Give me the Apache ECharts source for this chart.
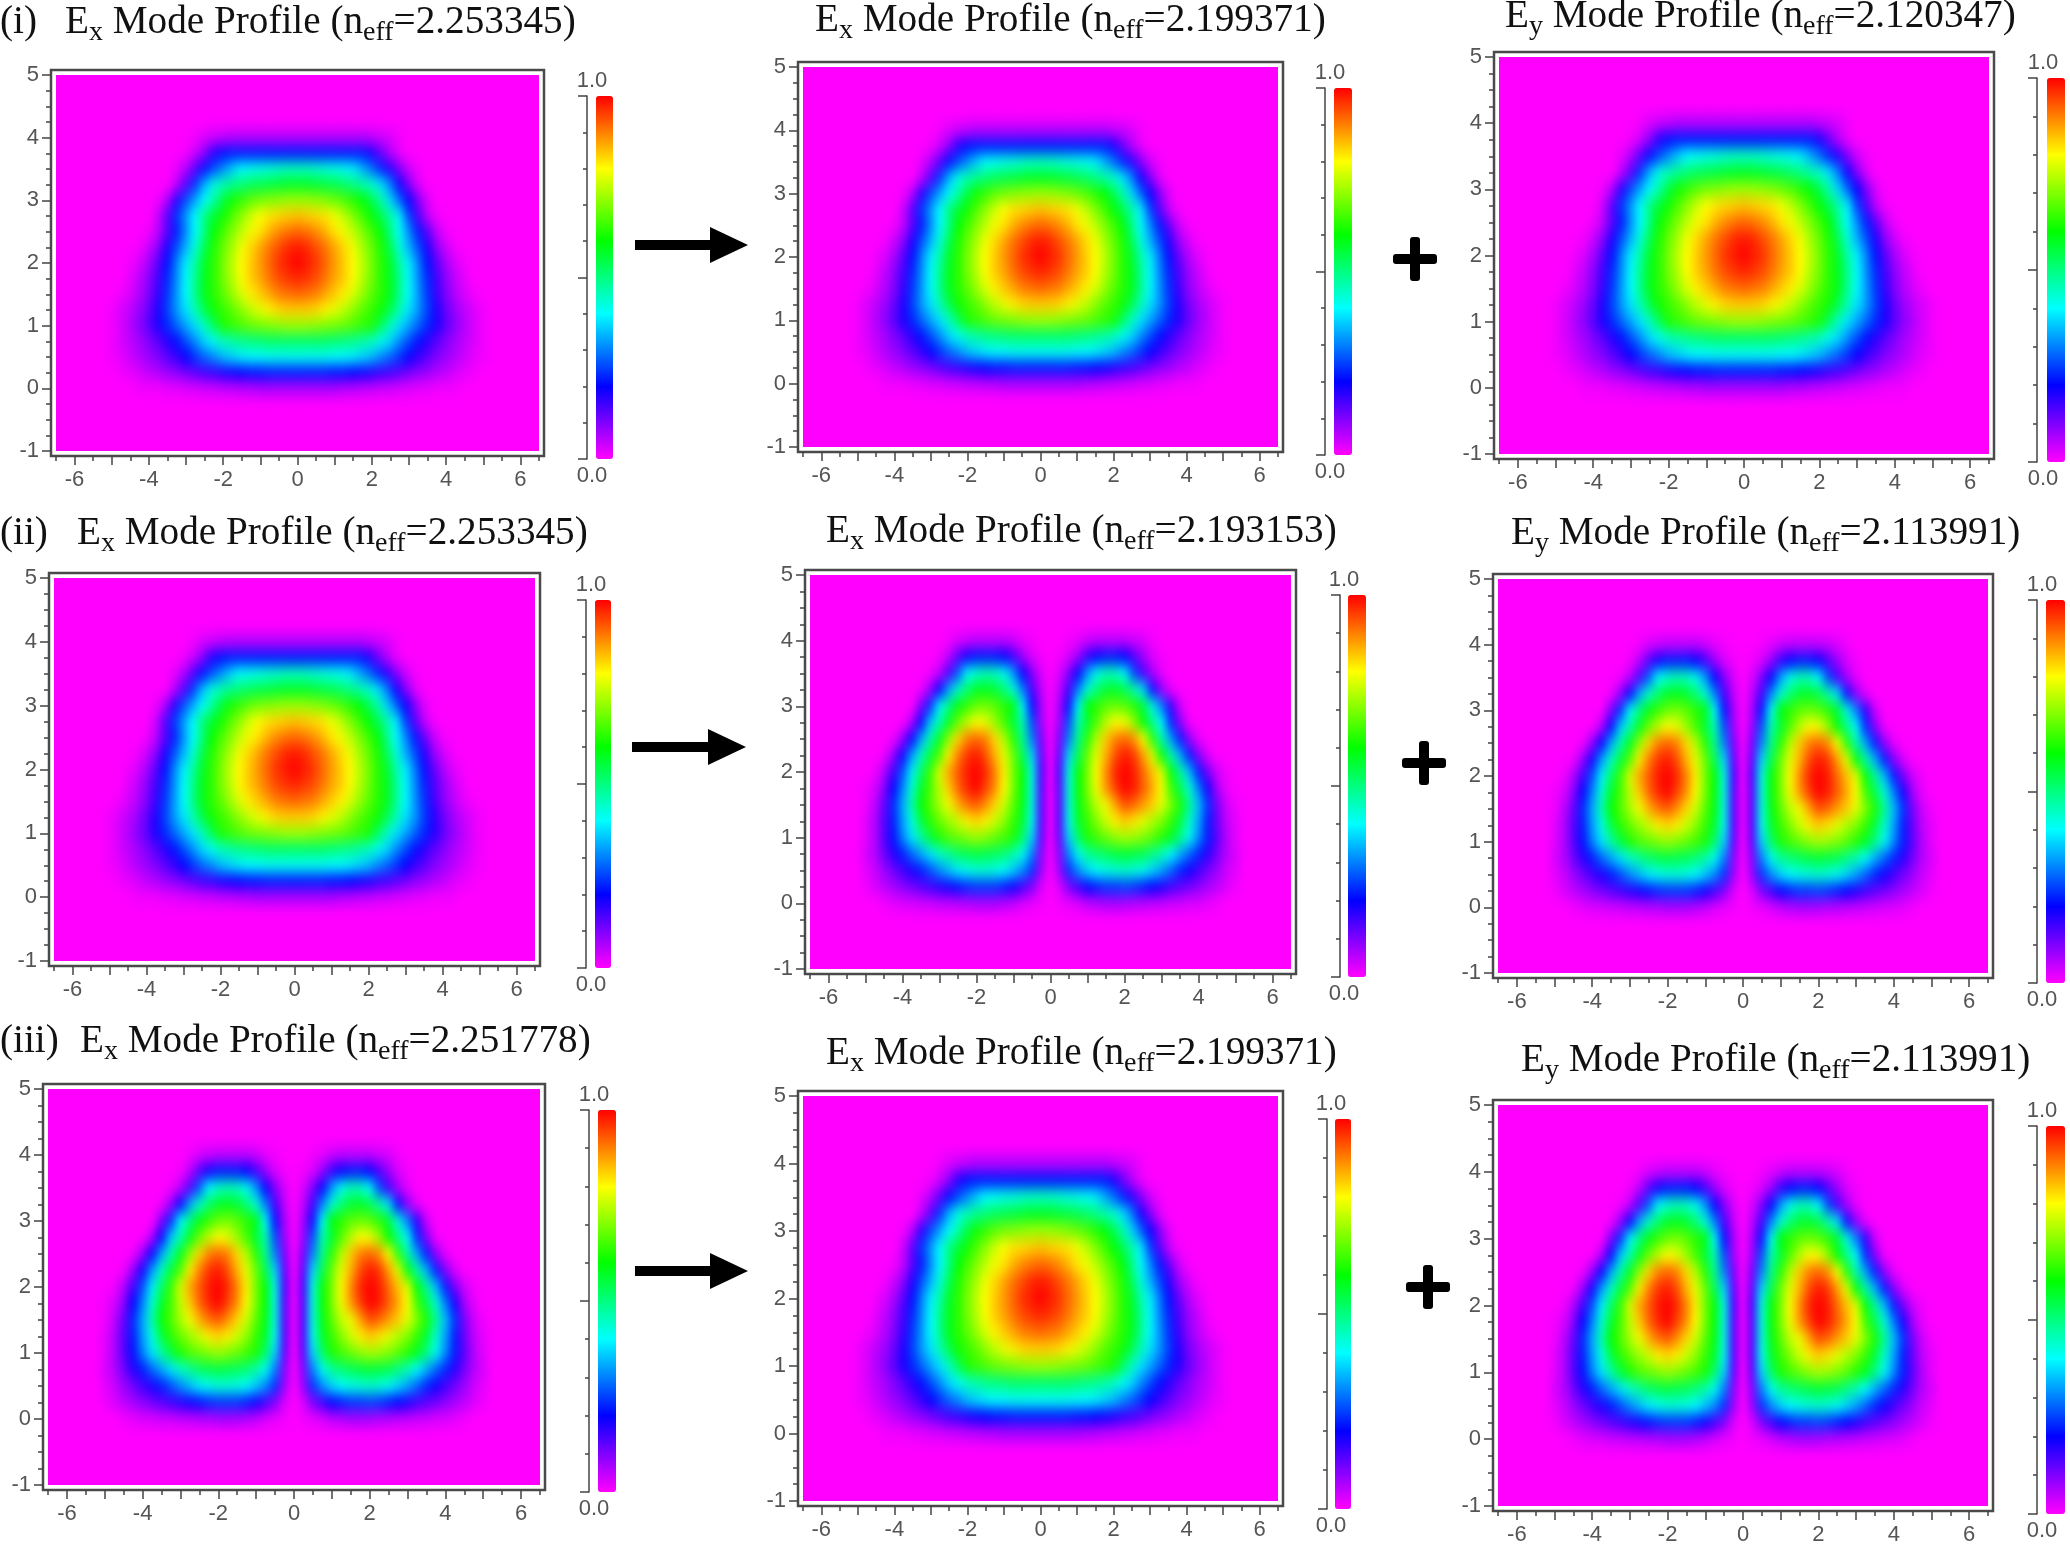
<!DOCTYPE html>
<html>
<head>
<meta charset="utf-8">
<title>Mode profiles</title>
<script src="https://cdn.jsdelivr.net/npm/echarts@6/dist/echarts.min.js"></script>
<style>
  html, body { margin: 0; padding: 0; background: #fff; }
  #page { position: relative; width: 2070px; height: 1557px; overflow: hidden; }
  #overlay { position: absolute; left: 0; top: 0; width: 2070px; height: 1557px; z-index: 2; }
  .well { position: absolute; background: #ff00ff; overflow: hidden; z-index: 1; }
  .heat { width: 100%; height: 100%; filter: url(#soften); }
</style>
</head>
<body>
<svg width="0" height="0" style="position:absolute">
  <filter id="soften" x="-5%" y="-5%" width="110%" height="110%" color-interpolation-filters="sRGB">
    <feGaussianBlur stdDeviation="4 7"></feGaussianBlur>
  </filter>
</svg>
<div id="page"><div id="overlay"></div></div>
<script>
// cell centres of the field tables, in microns
var xCats = [-5, -4.75, -4.5, -4.25, -4, -3.75, -3.5, -3.25, -3, -2.75, -2.5, -2.25, -2, -1.75, -1.5, -1.25, -1, -0.75, -0.5, -0.25, 0,
  0.25, 0.5, 0.75, 1, 1.25, 1.5, 1.75, 2, 2.25, 2.5, 2.75, 3, 3.25, 3.5, 3.75, 4, 4.25, 4.5, 4.75, 5];
var yCats = [4.25, 4, 3.75, 3.5, 3.25, 3, 2.75, 2.5, 2.25, 2, 1.75, 1.5, 1.25, 1, 0.75, 0.5, 0.25, 0, -0.25];

// field intensity in percent of peak, rows follow yCats
var singleLobe = [
  [0,0,0,0,0,0,0,0,0,0,0,0,0,0,0,0,0,0,0,0, 0, 0,0,0,0,0,0,0,0,0,0,0,0,0,0,0,0,0,0,0,0],
  [0,0,0,0,0,0,0,0,0,1,3,4,5,6,6,6,6,6,6,6, 6, 6,6,6,6,6,6,6,5,4,3,1,0,0,0,0,0,0,0,0,0],
  [0,0,0,0,0,0,0,0,1,4,9,17,21,22,22,22,22,22,22,22, 22, 22,22,22,22,22,22,22,18,12,6,2,0,0,0,0,0,0,0,0,0],
  [0,0,0,0,0,0,0,2,6,13,21,26,31,36,40,41,42,43,44,45, 45, 45,44,43,42,41,39,34,29,23,17,10,4,1,0,0,0,0,0,0,0],
  [0,0,0,0,0,0,0,5,13,24,34,42,46,49,51,53,54,55,56,57, 57, 57,56,55,54,52,50,47,44,38,30,19,10,3,0,0,0,0,0,0,0],
  [0,0,0,0,0,1,6,17,26,33,40,47,55,61,64,67,69,70,71,72, 72, 72,71,70,68,66,63,60,54,47,37,28,20,10,3,0,0,0,0,0,0],
  [0,0,0,0,0,4,13,24,32,40,50,56,61,66,71,76,80,82,83,84, 85, 84,83,82,79,75,70,65,60,54,47,39,25,14,5,1,0,0,0,0,0],
  [0,0,0,0,1,5,13,22,31,40,50,60,65,70,75,79,82,86,89,91, 92, 91,89,86,82,79,75,70,65,60,50,40,31,22,13,5,1,0,0,0,0],
  [0,0,0,1,4,9,18,26,34,43,54,62,68,73,79,83,87,91,94,97, 98, 97,94,91,87,83,79,73,68,62,54,43,34,26,18,9,4,1,0,0,0],
  [0,0,1,3,7,13,21,30,39,47,57,63,69,75,80,84,88,92,96,98, 100, 98,96,92,88,84,80,75,69,63,57,47,39,30,21,13,7,3,1,0,0],
  [0,0,2,5,9,15,23,31,40,49,58,63,69,74,80,84,87,91,94,96, 97, 96,94,91,87,84,80,74,69,63,58,49,40,31,23,15,9,5,2,0,0],
  [0,1,3,6,10,16,24,32,40,49,58,63,67,72,77,81,84,87,90,91, 92, 91,90,87,84,81,77,72,67,63,58,49,40,32,24,16,10,6,3,1,0],
  [1,3,5,8,12,18,25,32,38,46,54,61,64,67,71,75,78,81,83,84, 84, 84,83,81,78,75,71,67,64,61,54,46,38,32,25,18,12,8,5,3,1],
  [1,3,6,9,13,18,23,28,33,38,45,53,62,64,66,68,69,70,71,72, 72, 72,71,70,69,68,66,64,62,53,45,38,33,28,23,18,13,9,6,3,1],
  [1,3,5,7,10,13,17,21,26,31,37,41,45,47,49,50,51,52,52,52, 52, 52,52,52,51,50,49,47,45,41,37,31,26,21,17,13,10,7,5,3,1],
  [1,2,4,6,8,10,13,16,20,24,28,31,35,37,39,40,40,41,41,41, 41, 41,41,41,40,40,39,37,35,31,28,24,20,16,13,10,8,6,4,2,1],
  [0,1,2,3,5,6,8,9,11,13,15,16,18,19,20,21,21,22,22,22, 22, 22,22,22,21,21,20,19,18,16,15,13,11,9,8,6,5,3,2,1,0],
  [0,0,0,1,1,1,2,2,3,3,4,4,5,5,6,6,7,7,7,7, 7, 7,7,7,7,6,6,5,5,4,4,3,3,2,2,1,1,1,0,0,0],
  [0,0,0,0,0,0,0,0,0,0,0,0,0,0,0,0,0,0,0,0, 0, 0,0,0,0,0,0,0,0,0,0,0,0,0,0,0,0,0,0,0,0]
];
var doubleLobe = [
  [0,0,0,0,0,0,0,0,0,0,0,0,0,0,0,0,0,0,0,0, 0, 0,0,0,0,0,0,0,0,0,0,0,0,0,0,0,0,0,0,0,0],
  [0,0,0,0,0,0,0,0,0,1,3,4,5,5,5,5,4,2,1,0, 0, 0,1,2,4,5,5,5,5,4,3,1,0,0,0,0,0,0,0,0,0],
  [0,0,0,0,0,0,0,0,1,5,13,19,22,22,22,20,15,8,3,1, 0, 1,3,8,16,20,22,22,20,14,8,3,1,0,0,0,0,0,0,0,0],
  [0,0,0,0,0,0,0,1,5,14,27,40,44,46,45,41,32,20,10,3, 0, 3,10,20,32,41,46,45,40,26,15,7,2,0,0,0,0,0,0,0,0],
  [0,0,0,0,0,0,1,8,20,33,44,52,57,58,56,51,43,30,15,5, 0, 5,15,30,43,51,56,57,54,47,38,21,9,2,0,0,0,0,0,0,0],
  [0,0,0,0,0,0,10,23,40,50,59,64,68,69,67,63,59,40,21,7, 0, 7,21,40,60,63,67,68,67,63,56,42,30,17,4,0,0,0,0,0,0],
  [0,0,0,0,0,6,20,36,46,58,68,75,80,78,72,65,56,46,26,8, 0, 8,26,46,56,66,74,80,79,72,60,50,40,23,10,1,0,0,0,0,0],
  [0,0,0,1,8,20,33,46,58,71,83,90,92,90,83,74,63,49,30,11, 0, 11,30,49,63,74,84,90,92,89,80,63,47,33,22,9,2,0,0,0,0],
  [0,0,1,8,19,32,44,56,66,81,90,96,98,94,86,78,68,54,37,13, 0, 13,37,54,68,78,86,94,98,96,88,78,60,47,34,22,10,3,0,0,0],
  [0,1,6,15,26,39,52,64,77,87,93,98,100,97,90,81,69,60,42,15, 0, 15,42,60,69,80,89,97,100,98,92,85,78,60,48,35,22,11,4,1,0],
  [1,3,9,20,30,43,57,65,75,84,92,97,100,95,89,80,69,60,42,14, 0, 14,42,60,69,79,88,95,100,98,93,87,80,65,55,43,30,19,7,2,0],
  [1,5,12,23,33,46,60,66,73,79,86,91,93,89,83,76,67,59,42,14, 0, 14,42,59,67,75,79,87,94,92,88,84,78,70,62,49,35,24,11,4,1],
  [2,6,13,22,32,42,55,63,68,72,76,81,83,81,76,71,64,57,41,14, 0, 14,41,57,64,70,76,81,84,82,78,74,70,64,56,44,33,22,12,5,2],
  [2,6,13,21,30,38,47,55,62,66,68,70,72,70,68,65,62,52,37,13, 0, 13,37,52,62,65,68,71,73,72,70,67,63,58,50,41,31,22,13,6,2],
  [3,6,11,17,22,28,33,38,44,48,52,54,55,54,53,51,47,41,30,10, 0, 10,30,41,48,51,53,55,56,55,54,50,46,40,34,28,23,17,11,6,3],
  [2,4,8,11,15,18,22,26,31,35,39,41,43,43,42,40,36,31,24,8, 0, 8,24,31,37,40,42,43,44,43,41,37,33,28,23,19,15,11,8,4,2],
  [1,3,5,7,9,11,13,15,17,19,21,23,24,24,24,22,19,15,10,3, 0, 3,10,15,20,22,24,24,25,24,22,20,18,15,13,11,9,7,5,3,1],
  [0,0,1,2,3,3,4,4,5,5,6,6,7,7,7,6,5,3,2,1, 0, 1,2,3,5,6,7,7,7,6,6,5,5,4,4,3,3,2,1,0,0],
  [0,0,0,0,0,0,0,0,0,0,0,0,0,0,0,0,0,0,0,0, 0, 0,0,0,0,0,0,0,0,0,0,0,0,0,0,0,0,0,0,0,0]
];

// panel contents, row by row
var modeNames = ['x', 'x', 'y', 'x', 'x', 'y', 'x', 'x', 'y'];
var neffValues = ['2.253345', '2.199371', '2.120347', '2.253345', '2.193153', '2.113991', '2.251778', '2.199371', '2.113991'];
var fields = [singleLobe, singleLobe, singleLobe, singleLobe, doubleLobe, doubleLobe, doubleLobe, singleLobe, doubleLobe];
var rowLabels = ['(i)', '(ii)', '(iii)'];
var xMajorTicks = [-6, -5, -4, -3, -2, -1, 0, 1, 2, 3, 4, 5, 6];
var xMinorTicks = [-6.5, -5.5, -4.5, -3.5, -2.5, -1.5, -0.5, 0.5, 1.5, 2.5, 3.5, 4.5, 5.5, 6.5];
var xLabels = [-6, -4, -2, 0, 2, 4, 6];
var yLabels = [-1, 0, 1, 2, 3, 4, 5];
var yMinorTicks = [-0.75, -0.5, -0.25, 0.25, 0.5, 0.75, 1.25, 1.5, 1.75, 2.25, 2.5, 2.75, 3.25, 3.5, 3.75, 4.25, 4.5, 4.75];
var barMajorTicks = [0, 0.5, 1];

var ramp = ['#ff00ff', '#0000ff', '#00ffff', '#00ff00', '#ffff00', '#ff0000'];

// layout: plot l,t,r,b / colour bar l,t,r,b / axis line of the bar x / title left,baseline
var layout = [
  { p: [56, 75, 539, 451],    c: [596, 96, 613, 459],    a: 587,  t: [65, 33] },
  { p: [803, 67, 1278, 447],  c: [1334, 88, 1352, 455],  a: 1325, t: [815, 31] },
  { p: [1499, 57, 1989, 454], c: [2047, 78, 2065, 462],  a: 2037, t: [1505, 27] },
  { p: [54, 578, 535, 961],   c: [595, 600, 611, 968],   a: 586,  t: [77, 544] },
  { p: [810, 575, 1291, 969], c: [1348, 595, 1366, 977], a: 1340, t: [826, 542] },
  { p: [1498, 579, 1988, 973],c: [2046, 600, 2065, 983], a: 2037, t: [1511, 544] },
  { p: [48, 1089, 540, 1485], c: [598, 1110, 616, 1492], a: 589,  t: [80, 1052] },
  { p: [803, 1096, 1278, 1501],c: [1335, 1119, 1351, 1509], a: 1327, t: [826, 1064] },
  { p: [1498, 1105, 1988, 1506], c: [2046, 1126, 2065, 1514], a: 2037, t: [1521, 1071] }
];
var rowLabelTops = [33, 544, 1052];
var arrows = [[635, 748, 245], [632, 746, 747], [635, 748, 1271]];
var pluses = [[1415, 259], [1424, 763], [1428, 1287]];

var page = document.getElementById('page');
var titleRich = {
  n: { fontFamily: 'Liberation Serif', fontWeight: 'normal', fontSize: 39.2, color: '#111', lineHeight: 44, verticalAlign: 'top' },
  s: { fontFamily: 'Liberation Serif', fontWeight: 'normal', fontSize: 28, color: '#111', lineHeight: 28, padding: [36, 0, 0, 0], verticalAlign: 'bottom' }
};

// heat layer: one blurred chart per panel, sitting under the axes
layout.forEach(function (lay, i) {
  var well = document.createElement('div');
  well.className = 'well';
  well.style.left = lay.p[0] + 'px';
  well.style.top = lay.p[1] + 'px';
  well.style.width = (lay.p[2] - lay.p[0]) + 'px';
  well.style.height = (lay.p[3] - lay.p[1]) + 'px';
  var heat = document.createElement('div');
  heat.className = 'heat';
  well.appendChild(heat);
  page.appendChild(well);

  var data = [];
  fields[i].forEach(function (row, r) {
    row.forEach(function (v, c) { data.push([c, r, v]); });
  });
  echarts.init(heat).setOption({
    animation: false,
    grid: {
      left: (1.375 / 13 * 100) + '%', right: (1.375 / 13 * 100) + '%',
      top: (0.625 / 6 * 100) + '%', bottom: (0.625 / 6 * 100) + '%',
      outerBoundsMode: 'none'
    },
    xAxis: { type: 'category', data: xCats, show: false },
    yAxis: { type: 'category', data: yCats, show: false, inverse: true },
    visualMap: { show: false, min: 0, max: 100, inRange: { color: ramp } },
    series: [{ type: 'heatmap', data: data, progressive: 0, animation: false }]
  });
});

// axes, titles, colour bars and the arrows on top
var grids = [], xAxes = [], yAxes = [], titles = [], maps = [], graphics = [];
var TICK = '#444', LABEL = '#555', LABEL_FONT = 'Liberation Sans';

function addPlotAxes(lay) {
  var gap = 5, p = lay.p;
  var ux = (p[2] - p[0]) / 13, uy = (p[3] - p[1]) / 6;
  grids.push({
    left: p[0] - gap, top: p[1] - gap, width: p[2] - p[0] + 2 * gap, height: p[3] - p[1] + 2 * gap,
    show: true, borderColor: '#4a4a4a', borderWidth: 2.5, backgroundColor: 'transparent', outerBoundsMode: 'none'
  });
  var g = grids.length - 1;
  var xr = { min: -6.5 - gap / ux, max: 6.5 + gap / ux };
  var yr = { min: -1 - gap / uy, max: 5 + gap / uy };
  xAxes.push({
    gridIndex: g, type: 'value', position: 'bottom', min: xr.min, max: xr.max, splitLine: { show: false },
    axisLine: { show: false, onZero: false },
    axisTick: { show: true, length: 9, customValues: xMajorTicks, lineStyle: { color: TICK, width: 1.5 } },
    axisLabel: { customValues: xLabels, color: LABEL, fontFamily: LABEL_FONT, fontSize: 22, margin: 13 }
  });
  xAxes.push({
    gridIndex: g, type: 'value', position: 'bottom', min: xr.min, max: xr.max, splitLine: { show: false },
    axisLine: { show: false, onZero: false },
    axisTick: { show: true, length: 5, customValues: xMinorTicks, lineStyle: { color: TICK, width: 1.5 } },
    axisLabel: { show: false }
  });
  yAxes.push({
    gridIndex: g, type: 'value', position: 'left', min: yr.min, max: yr.max, splitLine: { show: false },
    axisLine: { show: false, onZero: false },
    axisTick: { show: true, length: 9, customValues: yLabels, lineStyle: { color: TICK, width: 1.5 } },
    axisLabel: { customValues: yLabels, color: LABEL, fontFamily: LABEL_FONT, fontSize: 22, margin: 12 }
  });
  yAxes.push({
    gridIndex: g, type: 'value', position: 'left', min: yr.min, max: yr.max, splitLine: { show: false },
    axisLine: { show: false, onZero: false },
    axisTick: { show: true, length: 5, customValues: yMinorTicks, lineStyle: { color: TICK, width: 1.5 } },
    axisLabel: { show: false }
  });
}

function addBarAxis(lay) {
  var c = lay.c;
  grids.push({ left: lay.a - 10, top: c[1], width: 10, height: c[3] - c[1], outerBoundsMode: 'none' });
  var g = grids.length - 1;
  xAxes.push({ gridIndex: g, type: 'value', show: false, min: 0, max: 1 });
  yAxes.push({
    gridIndex: g, type: 'value', position: 'right', min: 0, max: 1, splitLine: { show: false },
    axisLine: { show: true, onZero: false, lineStyle: { color: TICK, width: 1.5 } },
    axisTick: { show: true, inside: true, length: 9, customValues: barMajorTicks, lineStyle: { color: TICK, width: 1.5 } },
    axisLabel: { show: false }
  });
  yAxes.push({
    gridIndex: g, type: 'value', position: 'right', min: 0, max: 1, interval: 0.1, splitLine: { show: false },
    axisLine: { show: false, onZero: false },
    axisTick: { show: true, inside: true, length: 4, lineStyle: { color: TICK, width: 1.5 } },
    axisLabel: { show: false }
  });
  maps.push({
    type: 'continuous', min: 0, max: 1, calculable: false, hoverLink: false, seriesIndex: [], padding: 0,
    left: c[0], top: c[1], itemWidth: c[2] - c[0], itemHeight: c[3] - c[1],
    text: null, inRange: { color: ramp }
  });
  ['1.0', '0.0'].forEach(function (txt, k) {
    graphics.push({
      type: 'text', x: c[0] - 4, y: k ? c[3] + 17 : c[1] - 15,
      style: { text: txt, fill: LABEL, font: '22px "Liberation Sans"', align: 'center', verticalAlign: 'middle' }
    });
  });
}

layout.forEach(function (lay, i) {
  addPlotAxes(lay);
  addBarAxis(lay);
  titles.push({
    text: '{n|E}{s|' + modeNames[i] + '}{n| Mode Profile (n}{s|eff}{n|=' + neffValues[i] + ')}',
    left: lay.t[0], top: lay.t[1] - 30, padding: 0,
    textStyle: { rich: titleRich }
  });
});

rowLabels.forEach(function (txt, i) {
  titles.push({ text: '{n|' + txt + '}', left: 0, top: rowLabelTops[i] - 30, padding: 0, textStyle: { rich: titleRich } });
});

arrows.forEach(function (a) {
  graphics.push({ type: 'rect', shape: { x: a[0], y: a[2] - 5, width: a[1] - a[0] - 30, height: 10 }, style: { fill: '#000' } });
  graphics.push({
    type: 'polygon',
    shape: { points: [[a[1] - 38, a[2] - 18], [a[1], a[2]], [a[1] - 38, a[2] + 18]] },
    style: { fill: '#000' }
  });
});
pluses.forEach(function (p) {
  graphics.push({ type: 'rect', shape: { x: p[0] - 22, y: p[1] - 5, width: 44, height: 10, r: 3 }, style: { fill: '#000' } });
  graphics.push({ type: 'rect', shape: { x: p[0] - 5, y: p[1] - 22, width: 10, height: 44, r: 3 }, style: { fill: '#000' } });
});

echarts.init(document.getElementById('overlay')).setOption({
  animation: false,
  title: titles,
  grid: grids,
  xAxis: xAxes,
  yAxis: yAxes,
  visualMap: maps,
  graphic: graphics,
  series: []
});
</script>
</body>
</html>
